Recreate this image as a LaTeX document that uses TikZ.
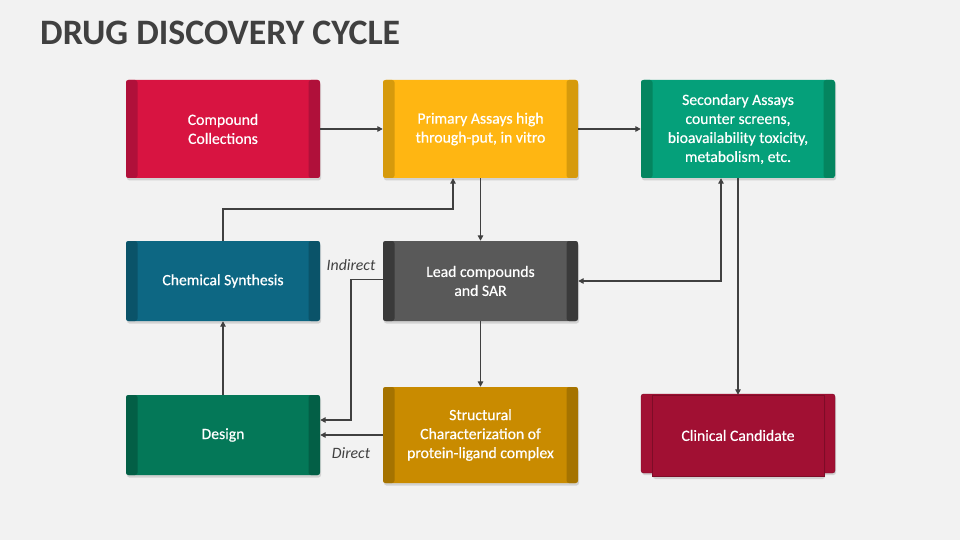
\documentclass[tikz,border=0pt]{standalone}
\usepackage{fontspec}
\setmainfont{Carlito}
\newfontfamily\ddsemi{Carlito}[FakeBold=0.5]
\usetikzlibrary{arrows.meta}
\definecolor{bg}{HTML}{F2F2F2}
\definecolor{titlegray}{HTML}{404040}
\definecolor{linegray}{HTML}{404040}
\definecolor{cmpA}{HTML}{D81441}\definecolor{cmpB}{HTML}{B0103A}
\definecolor{priA}{HTML}{FFB612}\definecolor{priB}{HTML}{D69A0C}
\definecolor{secA}{HTML}{05A07A}\definecolor{secB}{HTML}{04855F}
\definecolor{chmA}{HTML}{0D6783}\definecolor{chmB}{HTML}{0A5369}
\definecolor{ledA}{HTML}{595959}\definecolor{ledB}{HTML}{3A3A3A}
\definecolor{desA}{HTML}{047858}\definecolor{desB}{HTML}{035F46}
\definecolor{strA}{HTML}{C98B00}\definecolor{strB}{HTML}{A57300}
\definecolor{clnA}{HTML}{A11033}\definecolor{clnB}{HTML}{7E0C27}
\newcommand\ddboxfont{\ddsemi\fontsize{15.7}{19}\selectfont}
\tikzset{
  ddbox/.style 2 args={rectangle, rounded corners=2.5pt, fill=#1, text=white,
    align=center, font=\ddboxfont, inner sep=0pt,
    path picture={
      \fill[#2] (path picture bounding box.north west) rectangle ([xshift=11.5pt]path picture bounding box.south west);
      \fill[#2] (path picture bounding box.north east) rectangle ([xshift=-11.5pt]path picture bounding box.south east);
    }},
  arr/.style={draw=linegray, line width=1.5pt, -{Triangle[length=5.5pt,width=5.5pt]}},
  arrboth/.style={draw=linegray, line width=1.5pt, {Triangle[length=5.5pt,width=5.5pt]}-{Triangle[length=5.5pt,width=5.5pt]}},
  lbl/.style={font=\fontsize{15.8}{18}\selectfont\itshape, text=titlegray, inner sep=0pt},
  shadowbox/.style={fill=black, opacity=0.13, rounded corners=2.5pt}
}
\newcommand\ddnode[8]{%
  \fill[shadowbox] (#2-#4/2+1,#3-#5/2+2.5) rectangle ++(#4,#5);
  \node[ddbox={#6}{#7}, minimum width=#4pt, minimum height=#5pt] (#1) at (#2,#3) {#8};
}
\begin{document}
\begin{tikzpicture}[x=1pt,y=-1pt]
\fill[bg] (0,0) rectangle (960,540);
\useasboundingbox (0,0) rectangle (960,540);

\node[anchor=base west, font=\fontsize{35.8}{42}\selectfont\bfseries, text=titlegray, inner sep=0pt] (title) at (40,45) {DRUG DISCOVERY CYCLE};

\ddnode{compound}{223}{129}{194}{98}{cmpA}{cmpB}{Compound\\Collections}
\ddnode{primary}{480.5}{129}{195}{98}{priA}{priB}{Primary Assays high\\through-put, in vitro}
\ddnode{secondary}{738}{129}{194}{98}{secA}{secB}{Secondary Assays\\counter screens,\\bioavailability toxicity,\\metabolism, etc.}
\ddnode{chem}{223}{281}{194}{80}{chmA}{chmB}{Chemical Synthesis}
\ddnode{lead}{480.5}{281}{195}{80}{ledA}{ledB}{Lead compounds\\and SAR}
\ddnode{design}{223}{435}{194}{80}{desA}{desB}{Design}
\ddnode{struct}{480.5}{435}{195}{96}{strA}{strB}{Structural\\Characterization of\\protein-ligand complex}

% clinical candidate: back panel + front panel
\fill[shadowbox] (642,396) rectangle ++(194,79);
\node[rectangle, rounded corners=2.5pt, fill=clnA, draw=clnB, line width=0.4pt, minimum width=194pt, minimum height=79pt, inner sep=0pt] (clinicalback) at (738,433.5) {};
\fill[shadowbox] (653,398) rectangle ++(172,81);
\node[rectangle, fill=clnA, draw=clnB, line width=0.4pt, minimum width=172pt, minimum height=81pt, text=white, font=\ddboxfont, inner sep=0pt] (clinical) at (738,435.5) {Clinical Candidate};

% connectors
\draw[arr] (compound) -- (primary);
\draw[arr] (primary) -- (secondary);
\draw[arr] (primary.south) -- (lead.north);
\draw[arr] (chem.north) -- ++(0,-32) -| ([xshift=-27.5pt]primary.south);
\draw[arr] (design) -- (chem);
\draw[arrboth] ([xshift=-17pt]secondary.south) |- (lead.east);
\draw[arr] (secondary.south) -- (clinical.north);
\draw[arr] (lead) -- (struct);
\draw[arr] ([yshift=1.7pt]lead.west) -- ++(-32,0) |- ([yshift=15pt]design.east);
\draw[arr] (struct.west) -- (design.east);

\node[lbl] (indirect) at (351,265) {Indirect};
\node[lbl] (direct) at (351,453) {Direct};
\end{tikzpicture}
\end{document}
